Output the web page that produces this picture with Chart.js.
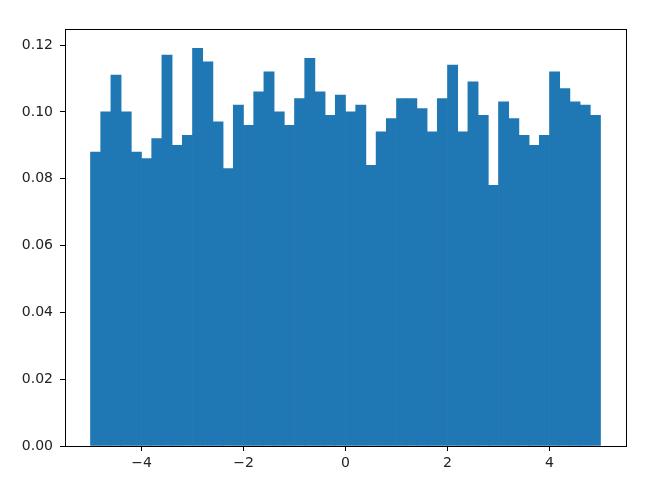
<!DOCTYPE html>
<html>
<head>
<meta charset="utf-8">
<script src="https://cdn.jsdelivr.net/npm/chart.js@4"></script>
<style>
  html, body { margin: 0; padding: 0; background: #fff; }
  #wrap { width: 660px; height: 500px; }
</style>
</head>
<body>
<div id="wrap"><canvas id="chart" width="660" height="500"></canvas></div>
<script>
// histogram: 50 bins from -5 to 5 (density)
const binStart = -5;
const binWidth = 0.2;
const densities = [
  0.088, 0.100, 0.111, 0.100, 0.088, 0.086, 0.092, 0.117, 0.090, 0.093,
  0.119, 0.115, 0.097, 0.083, 0.102, 0.096, 0.106, 0.112, 0.100, 0.096,
  0.104, 0.116, 0.106, 0.099, 0.105, 0.100, 0.102, 0.084, 0.094, 0.098,
  0.104, 0.104, 0.101, 0.094, 0.104, 0.114, 0.094, 0.109, 0.099, 0.078,
  0.103, 0.098, 0.093, 0.090, 0.093, 0.112, 0.107, 0.103, 0.102, 0.099
];
const xTicks = [-4, -2, 0, 2, 4];
const yTicks = [0, 0.02, 0.04, 0.06, 0.08, 0.10, 0.12];

const points = densities.map((d, i) => ({ x: binStart + binWidth * (i + 0.5), y: d }));

// draws the full box around the plot like matplotlib's spines
const frame = {
  id: 'frame',
  afterDraw(chart) {
    const { ctx, chartArea: a } = chart;
    ctx.save();
    ctx.strokeStyle = '#000';
    ctx.lineWidth = 1;
    ctx.strokeRect(Math.round(a.left) + 0.5, Math.round(a.top) + 0.5,
      Math.round(a.right - a.left), Math.round(a.bottom - a.top));
    ctx.restore();
  }
};

const tickFont = { family: 'DejaVu Sans', size: 14 };

new Chart(document.getElementById('chart').getContext('2d'), {
  type: 'bar',
  data: {
    datasets: [{
      data: points,
      backgroundColor: '#1f77b4',
      borderWidth: 0,
      barPercentage: 1,
      categoryPercentage: 1,
    }],
  },
  options: {
    responsive: false,
    animation: false,
    layout: { padding: { top: 29, right: 34, left: 0, bottom: 0 } },
    plugins: { legend: { display: false }, tooltip: { enabled: false } },
    scales: {
      x: {
        type: 'linear',
        min: -5.5,
        max: 5.5,
        offset: false,
        afterBuildTicks: s => { s.ticks = xTicks.map(v => ({ value: v })); },
        afterFit: s => { s.height = 54; },
        ticks: {
          font: tickFont,
          color: '#222',
          padding: 4,
          maxRotation: 0,
          callback: v => String(v).replace('-', '\u2212'),
        },
        grid: { offset: false, drawOnChartArea: false, drawTicks: true, tickLength: 5, color: '#000' },
        border: { color: '#000' },
      },
      y: {
        min: 0,
        max: 0.1248,
        afterBuildTicks: s => { s.ticks = yTicks.map(v => ({ value: v })); },
        afterFit: s => { s.width = 65; },
        ticks: {
          font: tickFont,
          color: '#222',
          padding: 7,
          callback: v => v.toFixed(2),
        },
        grid: { drawOnChartArea: false, drawTicks: true, tickLength: 5, color: '#000' },
        border: { color: '#000' },
      },
    },
  },
  plugins: [frame],
});
</script>
</body>
</html>
